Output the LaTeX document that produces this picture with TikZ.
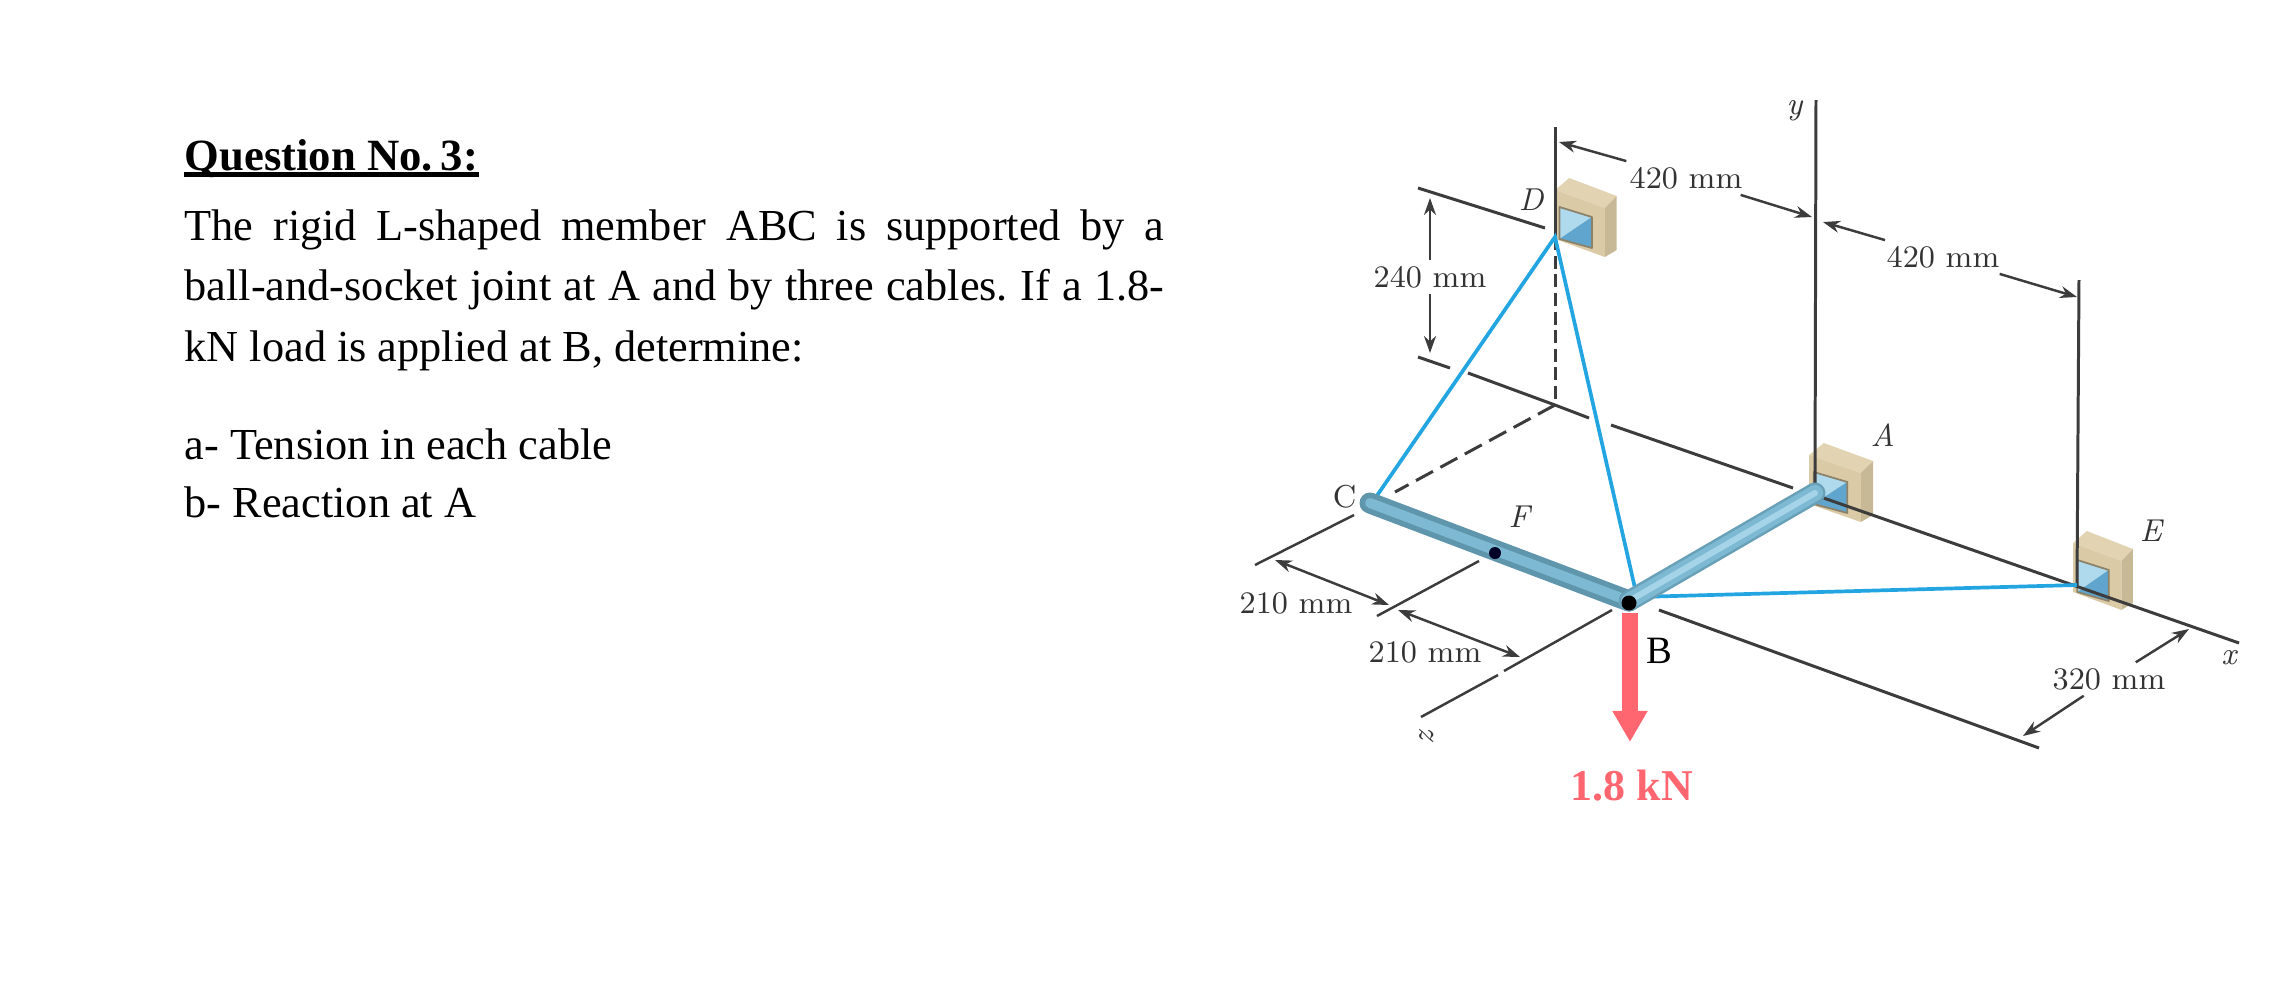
\documentclass[tikz,border=0pt]{standalone}
\usepackage{fontspec}
\newfontfamily\bodyfont{Liberation Serif}
\usepackage{tikz}
\usetikzlibrary{positioning}
\usetikzlibrary{arrows.meta}

\definecolor{linegray}{RGB}{60,60,60}
\definecolor{cableblue}{RGB}{35,165,225}
\definecolor{bardark}{RGB}{95,150,172}
\definecolor{barmid}{RGB}{125,185,210}
\definecolor{barlight}{RGB}{165,212,232}
\definecolor{loadred}{RGB}{255,102,112}
\definecolor{boxfront}{RGB}{218,202,165}
\definecolor{boxtop}{RGB}{226,212,178}
\definecolor{boxside}{RGB}{200,185,150}
\definecolor{winlight}{RGB}{175,218,238}
\definecolor{windark}{RGB}{95,165,205}

\tikzset{
    axisline/.style={draw=linegray, line width=0.85pt},
    dimline/.style={draw=linegray, line width=0.7pt, -{Stealth[length=0.17cm,width=0.12cm]}},
    dimboth/.style={draw=linegray, line width=0.7pt, {Stealth[length=0.17cm,width=0.12cm]}-{Stealth[length=0.17cm,width=0.12cm]}},
    hidden/.style={draw=linegray, line width=0.85pt, dash pattern=on 3.7pt off 1.6pt},
    cable/.style={draw=cableblue, line width=1.05pt},
    dimtext/.style={text=black!80, font=\fontsize{8.9}{10}\selectfont, inner sep=1.5pt},
    letter/.style={text=black!80, font=\fontsize{9}{10}\selectfont\itshape, inner sep=0pt},
    bodytext/.style={inner sep=0pt, text width=9.79cm, align=justify, font=\bodyfont\fontsize{12.6}{17.2}\selectfont\frenchspacing},
    taskline/.style={inner sep=0pt, font=\bodyfont\fontsize{12.6}{15}\selectfont}
}

% one wall bracket: x, y of its lower left corner, width factor
\newcommand{\wallbox}[3]{
    \begin{scope}[shift={(#1,#2)}, xscale=#3, line join=round]
        \fill[boxtop] (2,-47) -- (15,-59) -- (59,-41) -- (48,-29) -- cycle;
        \fill[boxside] (48,-29) -- (59,-41) -- (59,13) -- (48,20) -- cycle;
        \fill[boxfront] (2,-47) -- (48,-29) -- (48,20) -- (2,2) -- cycle;
        \fill[winlight] (6,-30) -- (36,-20) -- (6,2) -- cycle;
        \fill[windark] (6,2) -- (36,-20) -- (36,11) -- cycle;
        \draw[boxside!70!black, line width=0.5pt] (6,-30) -- (36,-20) -- (36,11) -- (6,2) -- cycle;
    \end{scope}
}

\begin{document}
\begin{tikzpicture}[x=0.01cm, y=-0.01cm]

    \useasboundingbox (0,0) rectangle (2274,984);

    % text on the left
    \node(title)[anchor=base west, inner sep=0pt, font=\bodyfont\bfseries\fontsize{12.7}{15}\selectfont] at (184,170) {Question No.\hspace{0.18em}3:};
    \draw[line width=1.4pt] ([yshift=0.03cm]title.south west) -- ([yshift=0.03cm]title.south east);
    \node(problem)[bodytext, below right=0.31cm and 0cm of title.south west]{The rigid L-shaped member ABC is supported by a\linebreak ball-and-socket joint at A and by three cables. If a 1.8-\linebreak kN load is applied at B, determine:};
    \node(taskA)[taskline, below right=0.56cm and 0cm of problem.south west]{a- Tension in each cable};
    \node(taskB)[taskline, below right=0.26cm and 0cm of taskA.south west]{b- Reaction at A};

    % points of the member
    \coordinate(D) at (1555,237);
    \coordinate(O) at (1555,405);
    \coordinate(A) at (1815,493);
    \coordinate(E) at (2077,585);
    \coordinate(C) at (1376,497);
    \coordinate(Cend) at (1370,503);
    \coordinate(Bjoint) at (1637,597);
    \coordinate(Dtop) at (1555,127);
    \coordinate(ytop) at (1816,100);
    \coordinate(Etop) at (2079,280);
    \coordinate(xend) at (2239,643);
    \coordinate(zend) at (1421,717);

    \wallbox{1553}{237}{1.08}
    \wallbox{1807}{502}{1.12}
    \wallbox{2071}{590}{1.05}

    % axes and extension lines
    \draw[axisline] (Dtop) -- (D);
    \draw[axisline] (ytop) -- (A);
    \draw[axisline] (Etop) -- (E);
    \coordinate(up1) at (1418,188);
    \coordinate(up2) at (1545,228);
    \draw[axisline] (up1) -- (up2);
    \coordinate(back1) at (1418,357);
    \coordinate(back2) at (1450,368);
    \coordinate(back3) at (1468,373);
    \coordinate(back4) at (1589,418);
    \coordinate(back5) at (1611,425);
    \coordinate(back6) at (1793,488);
    \coordinate(back7) at (1815,495);
    \draw[axisline] (back1) -- (back2);
    \draw[axisline] (back3) -- (O) -- (back4);
    \draw[axisline] (back5) -- (back6);
    \draw[axisline] (back7) -- (xend);
    \coordinate(front1) at (1659,610);
    \coordinate(front2) at (2039,748);
    \draw[axisline] (front1) -- (front2);
    \coordinate(ext1) at (1354,515);
    \coordinate(ext2) at (1255,565);
    \coordinate(ext3) at (1479,561);
    \coordinate(ext4) at (1377,616);
    \coordinate(ext5) at (1612,610);
    \coordinate(ext6) at (1504,671);
    \coordinate(ext7) at (1498,675);
    \draw[axisline, line width=0.7pt] (ext1) -- (ext2);
    \draw[axisline, line width=0.7pt] (ext3) -- (ext4);
    \draw[axisline, line width=0.7pt] (ext5) -- (ext6);
    \draw[axisline, line width=0.7pt] (ext7) -- (zend);

    % hidden lines
    \coordinate(Cdash) at (1395,492);
    \draw[hidden] (D) -- (O);
    \draw[hidden, dash pattern=on 5.5pt off 2.4pt] (O) -- (Cdash);

    % dimensions
    \node(dimDy)[dimtext] at (1686,178) {420 mm};
    \node(dimyE)[dimtext] at (1943,257) {420 mm};
    \node(dimheight)[dimtext] at (1430,277) {240 mm};
    \node(dimC)[dimtext] at (1296,603) {210 mm};
    \node(dimF)[dimtext] at (1425,652) {210 mm};
    \node(dimwide)[dimtext] at (2109,679) {320 mm};
    \coordinate(tip1) at (1559,142);
    \coordinate(tip2) at (1812,217);
    \coordinate(tip3) at (1823,222);
    \coordinate(tip4) at (2077,297);
    \coordinate(tip5) at (1430,198);
    \coordinate(tip6) at (1430,353);
    \coordinate(tip7) at (1275,560);
    \coordinate(tip8) at (1389,605);
    \coordinate(tip9) at (1398,610);
    \coordinate(tip10) at (1520,657);
    \coordinate(tip11) at (2189,629);
    \coordinate(tip12) at (2023,736);
    \draw[dimline] (dimDy) -- (tip1);
    \draw[dimline] (dimDy) -- (tip2);
    \draw[dimline] (dimyE) -- (tip3);
    \draw[dimline] (dimyE) -- (tip4);
    \draw[dimline] (dimheight) -- (tip5);
    \draw[dimline] (dimheight) -- (tip6);
    \draw[dimboth] (tip7) -- (tip8);
    \draw[dimboth] (tip9) -- (tip10);
    \draw[dimline] (dimwide) -- (tip11);
    \draw[dimline] (dimwide) -- (tip12);

    % cables
    \draw[cable] (C) -- (D) -- (Bjoint);
    \draw[cable] (Bjoint) -- (E);

    % L-shaped member
    \coordinate(Bbar) at (1629,601);
    \draw[draw=bardark, line width=0.21cm, line cap=round] (Cend) -- (Bbar);
    \draw[draw=barmid, line width=0.1cm, line cap=round] (Cend) -- (Bbar);
    \draw[draw=bardark!70!barmid, line width=0.21cm, line cap=round] (Bbar) -- (A);
    \draw[draw=barmid, line width=0.16cm, line cap=round] (Bbar) -- (A);
    \draw[draw=barlight, line width=0.06cm, line cap=round] (Bbar) -- (A);

    \node(B)[fill=black, circle, inner sep=0pt, minimum size=0.15cm] at (1629,603) {};
    \node(F)[fill=black!85!blue, circle, inner sep=0pt, minimum size=0.12cm] at (1495,553) {};

    % load at B
    \coordinate(loadtop) at (1630,613);
    \coordinate(loadtip) at (1630,742);
    \draw[draw=loadred, line width=0.16cm, -{Triangle[length=0.31cm,width=0.33cm]}] (loadtop) -- (loadtip);
    \node(load)[below=0.27cm of loadtip, xshift=0.02cm, inner sep=0pt, text=loadred, font=\bodyfont\bfseries\fontsize{12.5}{15}\selectfont]{1.8 kN};
    \node(Blabel)[below right=0.34cm and 0.17cm of B.center, inner sep=0pt, font=\bodyfont\fontsize{11}{13}\selectfont]{B};

    % letters
    \node(Dlabel)[letter, above left=0.26cm and 0.11cm of D]{D};
    \node(Clabel)[letter, left=0.19cm of C, font=\fontsize{9}{10}\selectfont]{C};
    \node(Flabel)[letter, above right=0.25cm and 0.13cm of F.center]{F};
    \node(Alabel)[letter, above right=0.46cm and 0.55cm of A]{A};
    \node(Elabel)[letter, above right=0.43cm and 0.62cm of E]{E};
    \node(ylabel)[letter, below left=0cm and 0.13cm of ytop]{y};
    \node(xlabel)[letter, below left=0.07cm and 0.02cm of xend]{x};
    \node(zlabel)[letter, rotate=90] at (1427,738) {z};

\end{tikzpicture}
\end{document}
